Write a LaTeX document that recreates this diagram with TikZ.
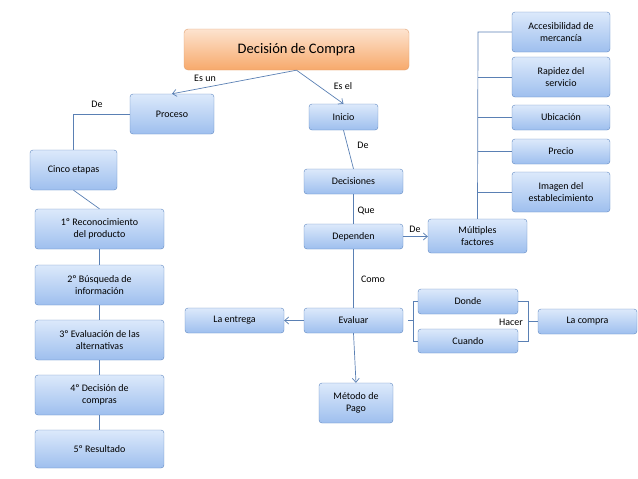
\documentclass[tikz,border=0pt]{standalone}
\usepackage{fontspec}
\setmainfont{Carlito}
\usetikzlibrary{arrows.meta}
\definecolor{bt}{HTML}{DCE9FB}
\definecolor{bb}{HTML}{9EBFEE}
\definecolor{bd}{HTML}{5F88C0}
\definecolor{ot}{HTML}{FDE3CF}
\definecolor{ob}{HTML}{F7A96B}
\definecolor{od}{HTML}{E0A070}
\definecolor{ln}{HTML}{5A80B4}
\tikzset{
 bx/.style={draw=bd,top color=bt,bottom color=bb,rounded corners=3pt,align=center,font=\fontsize{10}{12}\selectfont,inner sep=1pt},
 ttl/.style={draw=od,top color=ot,bottom color=ob,rounded corners=4pt,font=\fontsize{14.5}{16}\selectfont},
 cn/.style={draw=ln,line width=0.7pt},
 ar/.style={cn,-{Straight Barb[length=4pt,width=7pt]}},
 lb/.style={font=\fontsize{10}{11}\selectfont,inner sep=0pt}
}
\newcommand{\bxat}[6]{\node[#6,minimum width=#3-#2,minimum height=#5-#4] (#1) at ({(#2+#3)/2},{(#4+#5)/2})}
\begin{document}
\begin{tikzpicture}[x=1pt,y=-1pt]
\useasboundingbox (0,0) rectangle (638,479);
\bxat{t}{184}{409}{29}{70}{ttl} {Decisión de Compra};
\bxat{pr}{130}{214}{94}{134}{bx} {Proceso};
\bxat{in}{309}{378}{104}{130}{bx} {Inicio};
\bxat{ce}{30}{117}{150}{190}{bx} {Cinco etapas};
\bxat{de}{304}{403}{169}{194}{bx} {Decisiones};
\bxat{dp}{304}{403}{224}{249}{bx} {Dependen};
\bxat{s1}{35}{164}{209}{249}{bx} {1º Reconocimiento\\del producto};
\bxat{s2}{35}{164}{265}{305}{bx} {2º Búsqueda de\\información};
\bxat{s3}{35}{164}{320}{360}{bx} {3º Evaluación de las\\alternativas};
\bxat{s4}{35}{164}{375}{415}{bx} {4º Decisión de\\compras};
\bxat{s5}{35}{164}{430}{468}{bx} {5º Resultado};
\bxat{mf}{428}{527}{219}{253}{bx} {Múltiples\\factores};
\bxat{f1}{512}{610}{12}{52}{bx} {Accesibilidad de\\mercancía};
\bxat{f2}{512}{610}{57}{97}{bx} {Rapidez del\\servicio};
\bxat{f3}{512}{610}{105}{130}{bx} {Ubicación};
\bxat{f4}{512}{610}{139}{164}{bx} {Precio};
\bxat{f5}{512}{610}{172}{212}{bx} {Imagen del\\establecimiento};
\bxat{ev}{304}{403}{308}{333}{bx} {Evaluar};
\bxat{le}{185}{284}{308}{333}{bx} {La entrega};
\bxat{do}{418}{518}{289}{314}{bx} {Donde};
\bxat{cu}{418}{518}{329}{353}{bx} {Cuando};
\bxat{lc}{538}{637}{309}{334}{bx} {La compra};
\bxat{me}{319}{393}{383}{423}{bx} {Método de\\Pago};
% connectors
\draw[ar] (t.south) -- (pr.north);
\node[lb] at (205,78) {Es un};
\draw[ar] (t.south) -- (in.north);
\node[lb] at (343,86) {Es el};
\draw[cn] (pr.west) -- (73,114) -- (ce.north -| 73,0);
\node[lb] at (97,104) {De};
\draw[cn] (ce.south) -- (s1.north);
\draw[cn] (s1) -- (s2); \draw[cn] (s2) -- (s3); \draw[cn] (s3) -- (s4); \draw[cn] (s4) -- (s5);
\draw[cn] (in.south) -- (de.north);
\node[lb] at (363,145) {De};
\draw[cn] (de) -- (dp);
\node[lb] at (366,211) {Que};
\draw[ar] (dp.east) -- (mf.west |- dp.east);
\node[lb] at (415,229) {De};
\draw[cn] (mf.north) -- (478,32) -- (f1.west);
\foreach \f in {f2,f3,f4,f5} \draw[cn] (478,0 |- \f.west) -- (\f.west);
\draw[cn] (dp) -- (ev);
\node[lb] at (373,279) {Como};
\draw[ar] (ev.west) -- (le.east);
\draw[ar] (ev.south) -- (me.north);
\draw[cn] (ev.east) ++(5,0) -- (413,320.5);
\draw[cn] (do.west) -- (413,301.5) -- (413,341) -- (cu.west);
\draw[cn] (do.east) -- (528,301.5) -- (528,341) -- (cu.east);
\draw[cn] (528,321.5) -- (lc.west);
\node[lb,fill=white,inner sep=1pt] at (511,322) {Hacer};
\end{tikzpicture}
\end{document}
